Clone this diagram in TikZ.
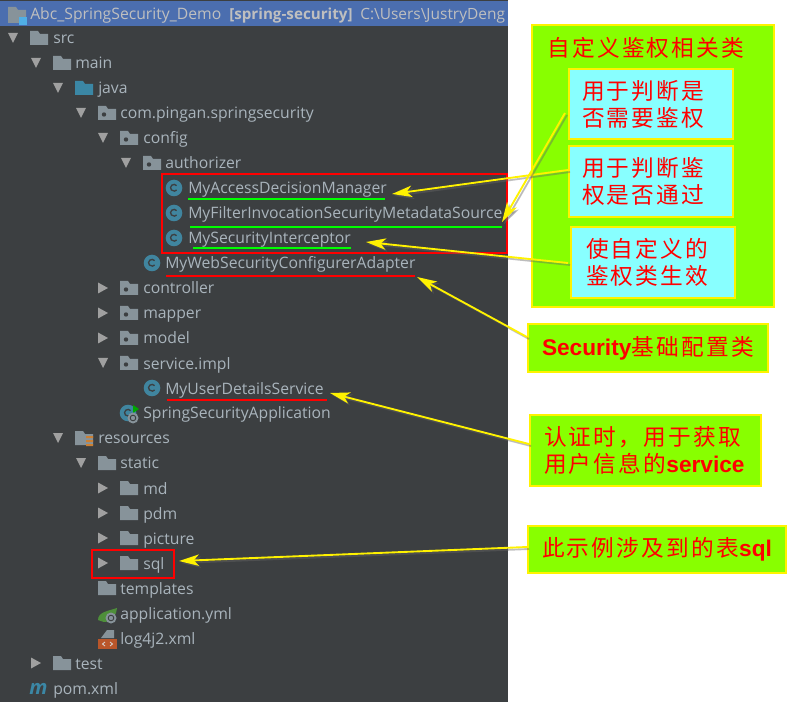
\documentclass[tikz,border=0pt]{standalone}
\usepackage{fontspec}
\usepackage{tikz}
\usetikzlibrary{arrows.meta}
\setmainfont{Open Sans}
\newfontfamily\cjk[LetterSpace=10]{Noto Sans CJK SC}
\newfontfamily\latinb{Liberation Sans}[BoldFont={Liberation Sans Bold}]
\newcommand{\boldlatin}[1]{{\latinb\bfseries\fontsize{17}{20.25}\selectfont #1}}
\newcommand{\calloutline}[2]{%
  \draw[calloutshade, transform canvas={shift={(1.5pt,-1.5pt)}}] (#1) -- (#2);
  \draw[callout] (#1) -- (#2);}

\definecolor{ideback}{HTML}{3C3F41}
\definecolor{idehead}{HTML}{4B6EAF}
\definecolor{treetext}{HTML}{A9B4BC}
\definecolor{foldergray}{HTML}{87939A}
\definecolor{folderblue}{HTML}{3B87A5}
\definecolor{arrowgray}{HTML}{A0A0A0}
\definecolor{classblue}{HTML}{40859F}
\definecolor{boxgreen}{HTML}{88FF00}
\definecolor{boxcyan}{HTML}{88FFFF}
\definecolor{gearleaf}{HTML}{4E8F3A}
\definecolor{xmlorange}{HTML}{B9562A}

\tikzset{
  treelabel/.style={anchor=base west, inner sep=0pt, yshift=-0.75pt, text=treetext, font=\fontsize{11.8}{15}\selectfont},
  headlabel/.style={treelabel, text=black!25},
  greenbox/.style={draw=yellow, line width=1.5pt, fill=boxgreen, text=red, inner ysep=0pt, align=left, font=\fontsize{17}{20.25}\selectfont\cjk},
  cyanbox/.style={greenbox, fill=boxcyan},
  padded/.style args={#1 and #2}{inner xsep=#1*0.75pt, text width=(#2-2*#1)*0.75pt},
  redbox/.style={draw=red, line width=1.5pt, inner sep=0pt},
  callout/.style={draw=yellow, line width=1.4pt, -{Stealth[length=15pt,width=8.5pt,inset=4pt]}},
  calloutshade/.style={callout, draw=black!60, fill=black!60, opacity=.4},
  pics/openarrow/.style={code={\fill[arrowgray] (0,-5) -- (10,-5) -- (5,5) -- cycle;}},
  pics/shutarrow/.style={code={\fill[arrowgray] (0,-5.5) -- (10,0) -- (0,5.5) -- cycle;}},
  pics/folder/.style={code={\fill[#1] (0,-7) -- (8,-7) -- (10,-4) -- (18,-4) -- (18,7) -- (0,7) -- cycle;}},
  pics/package/.style={code={\fill[foldergray] (0,-7) -- (8,-7) -- (10,-4) -- (18,-4) -- (18,7) -- (0,7) -- cycle;
    \fill[ideback] (6,1.5) circle (2.2);}},
  pics/classicon/.style={code={\fill[classblue] (0,0) circle (8.3);
    \draw[ideback, line width=1pt] (2.6,-2.4) arc (-40:-320:3.4);}},
  pics/gear/.style={code={\fill[foldergray] (0,0) circle (5.5);
    \draw[ideback, line width=0.7pt] (0,0) circle (2.8);}}
}

\begin{document}
\begin{tikzpicture}[x=0.75pt, y=-0.75pt]
  \useasboundingbox (0,0) rectangle (793,702);

  % Hintergrund
  \fill[ideback] (0,0) rectangle (508,702);
  \fill[idehead] (0,1) rectangle (508,26);
  \fill[foldergray] (8,7) -- (16,7) -- (18,10) -- (26,10) -- (26,23) -- (8,23) -- cycle;
  \fill[cyan!80!blue!70] (19,17) rectangle (27,25);
  \node[headlabel] (head) at (30,19) {Abc\_SpringSecurity\_Demo};
  \node[headlabel, font=\fontsize{11.4}{15}\bfseries\selectfont] (headmodule) at (229,19) {[spring-security]};
  \node[headlabel, font=\fontsize{11.6}{15}\selectfont] (headpath) at (360,19) {C:\textbackslash Users\textbackslash JustryDeng};

  % Baum
  \pic at (8,38) {openarrow};
  \pic at (30,38) {folder=foldergray};
  \node[treelabel] (src) at (53,43) {src};
  \pic at (31,63) {openarrow};
  \pic at (53,63) {folder=foldergray};
  \node[treelabel] (main) at (75,68) {main};
  \pic at (53,88) {openarrow};
  \pic at (75,88) {folder=folderblue};
  \node[treelabel] (java) at (98,93) {java};
  \pic at (76,113) {openarrow};
  \pic at (98,113) {package};
  \node[treelabel] (pingan) at (120,118) {com.pingan.springsecurity};
  \pic at (98,138) {openarrow};
  \pic at (120,138) {package};
  \node[treelabel] (config) at (143,143) {config};
  \pic at (121,163) {openarrow};
  \pic at (143,163) {package};
  \node[treelabel] (authorizer) at (165,168) {authorizer};
  \pic at (174,188) {classicon};
  \node[treelabel] (decision) at (188,193) {MyAccessDecisionManager};
  \pic at (174,213) {classicon};
  \node[treelabel] (metadata) at (188,218) {MyFilterInvocationSecurityMetadataSource};
  \pic at (174,238) {classicon};
  \node[treelabel] (interceptor) at (188,243) {MySecurityInterceptor};
  \pic at (152,263) {classicon};
  \node[treelabel] (adapter) at (165,268) {MyWebSecurityConfigurerAdapter};
  \pic at (98,288) {shutarrow};
  \pic at (120,288) {package};
  \node[treelabel] (controller) at (143,293) {controller};
  \pic at (98,313) {shutarrow};
  \pic at (120,313) {package};
  \node[treelabel] (mapper) at (143,318) {mapper};
  \pic at (98,338) {shutarrow};
  \pic at (120,338) {package};
  \node[treelabel] (model) at (143,343) {model};
  \pic at (98,363) {openarrow};
  \pic at (120,363) {package};
  \node[treelabel] (serviceimpl) at (143,368) {service.impl};
  \pic at (152,388) {classicon};
  \node[treelabel] (userdetails) at (165,393) {MyUserDetailsService};
  \pic at (128,413) {classicon};
  \fill[green!65!black] (133,405) -- (139,409) -- (133,413) -- cycle;
  \pic at (133,418) {gear};
  \node[treelabel] (application) at (143,418) {SpringSecurityApplication};
  \pic at (53,438) {openarrow};
  \pic at (75,438) {folder=foldergray};
  \fill[orange!60!gray] (86,436) rectangle (93,438) (86,440) rectangle (93,442) (86,444) rectangle (93,446);
  \node[treelabel] (resources) at (98,443) {resources};
  \pic at (76,463) {openarrow};
  \pic at (98,463) {folder=foldergray};
  \node[treelabel] (static) at (120,468) {static};
  \pic at (98,488) {shutarrow};
  \pic at (120,488) {folder=foldergray};
  \node[treelabel] (md) at (143,493) {md};
  \pic at (98,513) {shutarrow};
  \pic at (120,513) {folder=foldergray};
  \node[treelabel] (pdm) at (143,518) {pdm};
  \pic at (98,538) {shutarrow};
  \pic at (120,538) {folder=foldergray};
  \node[treelabel] (picture) at (143,543) {picture};
  \pic at (98,563) {shutarrow};
  \pic at (120,563) {folder=foldergray};
  \node[treelabel] (sql) at (143,568) {sql};
  \pic at (98,588) {folder=foldergray};
  \node[treelabel] (templates) at (120,593) {templates};
  \fill[gearleaf] (98,620) .. controls (98,612) and (108,611) .. (117,608) .. controls (117,614) and (112,622) .. (104,622) -- cycle;
  \pic at (111,618) {gear};
  \node[treelabel] (yml) at (120,618) {application.yml};
  \fill[foldergray] (107,630) -- (114,630) -- (114,638) -- (101,638) -- cycle;
  \fill[xmlorange] (98,639) rectangle (117,649);
  \draw[black!15, line width=0.6pt] (105,642) -- (102.5,644) -- (105,646) (110,642) -- (112.5,644) -- (110,646);
  \node[treelabel] (log) at (120,643) {log4j2.xml};
  \pic at (31,663) {shutarrow};
  \pic at (53,663) {folder=foldergray};
  \node[treelabel] (test) at (75,668) {test};
  \node[anchor=base west, inner sep=0pt, text=folderblue, font=\fontsize{15}{15}\bfseries\itshape\selectfont] (pom) at (29,694) {m};
  \node[treelabel] (pomxml) at (53,693) {pom.xml};

  % Markierungen
  \node[redbox, minimum width=345*0.75pt, minimum height=79*0.75pt] (authbox) at (334.5,213.5) {};
  \node[redbox, minimum width=82*0.75pt, minimum height=28*0.75pt] (sqlbox) at (133,564) {};
  \draw[green, line width=1pt] (188,199) -- (385,199);
  \draw[green, line width=1pt] (190,227) -- (502,227);
  \draw[green, line width=1pt] (193,248) -- (351,248);
  \draw[red, line width=1pt] (166,276) -- (415,276);
  \draw[red, line width=1pt] (167,400) -- (327,400);

  % Kaesten
  \node[greenbox, minimum width=242*0.75pt, minimum height=282*0.75pt] (outerbox) at (653,166) {};
  \node[anchor=west, text=red, inner sep=0pt, font=\fontsize{17}{20.25}\selectfont\cjk] (title) at (547,48) {自定义鉴权相关类};
  \node[cyanbox, padded=13 and 164, minimum height=70*0.75pt] (judgeneed) at (651,104) {用于判断是\\否需要鉴权};
  \node[cyanbox, padded=13 and 164, minimum height=71*0.75pt] (judgepass) at (651,181.5) {用于判断鉴\\权是否通过};
  \node[cyanbox, padded=15 and 164, minimum height=71*0.75pt] (takeeffect) at (653,262.5) {使自定义的\\鉴权类生效};
  \node[greenbox, padded=14 and 240, minimum height=48*0.75pt] (basebox) at (648,348) {\boldlatin{Security}基础配置类};
  \node[greenbox, padded=14 and 231, minimum height=71*0.75pt] (authnbox) at (645.5,450.5) {认证时，用于获取\\用户信息的\boldlatin{service}};
  \node[greenbox, padded=14 and 258, minimum height=47*0.75pt] (tablebox) at (657,549.5) {此示例涉及到的表\boldlatin{sql}};

  % Pfeile
  \coordinate (tipdecision) at (392,194);
  \coordinate (tipmetadata) at (502,222);
  \coordinate (tipinterceptor) at (366,242);
  \coordinate (tipadapter) at (417,277);
  \coordinate (tipdetails) at (330,393);
  \coordinate (tipsql) at (179,561);
  \coordinate (tailneed) at (565,113);
  \coordinate (taileffect) at (568,263);
  \coordinate (tailpass) at (judgepass.west |- 0,170);
  \coordinate (tailbase) at (basebox.west |- 0,337);
  \coordinate (tailauthn) at (authnbox.west |- 0,444);
  \coordinate (tailtable) at (tablebox.west |- 0,547);
  \calloutline{tailpass}{tipdecision}
  \calloutline{tailneed}{tipmetadata}
  \calloutline{taileffect}{tipinterceptor}
  \calloutline{tailbase}{tipadapter}
  \calloutline{tailauthn}{tipdetails}
  \calloutline{tailtable}{tipsql}
\end{tikzpicture}
\end{document}
